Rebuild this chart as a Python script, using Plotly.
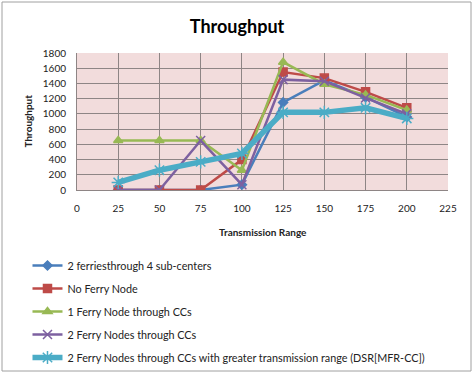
import plotly.graph_objects as go

x_range = [25, 50, 75, 100, 125, 150, 175, 200]
s_blue = [0, 0, 0, 70, 1150, 1440, 1220, 960]
s_red = [0, 0, 0, 400, 1550, 1470, 1290, 1080]
s_green = [650, 650, 650, 260, 1680, 1390, 1250, 1050]
s_purple = [0, 0, 650, 70, 1450, 1430, 1210, 1000]
s_cyan = [100, 260, 370, 480, 1020, 1020, 1080, 940]

names = [
    "2 ferriesthrough 4 sub-centers",
    "No Ferry Node",
    "1 Ferry Node through CCs",
    "2 Ferry Nodes through CCs",
    "2 Ferry Nodes through CCs with greater transmission range (DSR[MFR-CC])",
]

FONT = "Lato"
fig = go.Figure()
styles = [
    (s_blue, "#4A7EBB", "diamond", 2.5, 7),
    (s_red, "#BE4B48", "square", 2.5, 8),
    (s_green, "#98B954", "triangle-up", 2.5, 8),
    (s_purple, "#7D60A0", "x-thin-open", 2.5, 9),
    (s_cyan, "#4BACC6", "asterisk-open", 5.5, 11),
]
for i, (ys, c, sym, w, ms) in enumerate(styles):
    fig.add_trace(go.Scatter(
        x=x_range, y=ys, name=names[i], mode="lines+markers",
        line=dict(color=c, width=w),
        marker=dict(symbol=sym, size=ms, color=c, line=dict(color=c, width=1.5)),
        legendgroup=str(i),
    ))

W, H = 371, 137
L, T = 77, 53
fig.update_layout(
    width=474, height=374,
    margin=dict(l=L, r=474 - L - W, t=T, b=374 - T - H, autoexpand=False),
    paper_bgcolor="white",
    plot_bgcolor="#F2DCDC",
    font=dict(family=FONT, size=10, color="#222"),
    title=dict(text="<b>Throughput</b>", x=0.5, xanchor="center", y=1 - 27 / 374, yanchor="middle",
               xref="container", yref="container",
               font=dict(family=FONT, size=18, color="black")),
    xaxis=dict(range=[0, 225], dtick=25, tick0=0, showgrid=True, gridcolor="#8E8585",
               gridwidth=1, zeroline=False, showline=True, linecolor="#8E8585",
               ticks="", tickfont=dict(size=10), automargin=False, ticklabelstandoff=9),
    yaxis=dict(range=[0, 1800], dtick=200, showgrid=True, gridcolor="#8E8585",
               gridwidth=1, zeroline=False, showline=True, linecolor="#8E8585",
               ticks="", tickfont=dict(size=10), automargin=False, ticklabelstandoff=8),
    showlegend=True,
    legend=dict(x=0.058, xref="container", y=1 - 251 / 374, yref="container",
                xanchor="left", yanchor="top",
                font=dict(family=FONT, size=10.8, color="#222"), tracegroupgap=4,
                bgcolor="rgba(0,0,0,0)", itemwidth=30),
)

fig.add_annotation(text="<b>Transmission Range</b>", xref="paper", yref="paper",
                   x=0.5, y=(190 - 232) / H, xanchor="center", yanchor="middle",
                   showarrow=False, font=dict(size=10, color="#222"))
fig.add_annotation(text="<b>Throughput</b>", xref="paper", yref="paper",
                   x=(27 - L) / W, y=0.5, xanchor="center", yanchor="middle", textangle=-90,
                   showarrow=False, font=dict(size=10, color="#222"))

fig.add_shape(type="rect", xref="paper", yref="paper",
              x0=(2 - L) / W, x1=(471 - L) / W, y0=(190 - 371) / H, y1=(190 - 2) / H,
              line=dict(color="#A0A0A0", width=1), fillcolor="rgba(0,0,0,0)", layer="below")

fig.write_html("out.html", config={"displayModeBar": False},
               post_script="document.body.style.margin='0px';")
